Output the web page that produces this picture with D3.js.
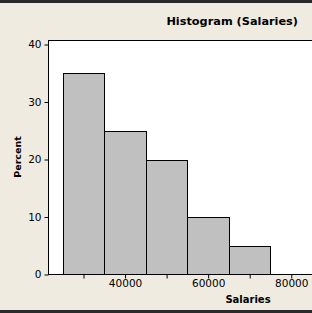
<!DOCTYPE html>
<html>
<head>
<meta charset="utf-8">
<script src="https://cdn.jsdelivr.net/npm/d3@7"></script>
<style>
  body { margin: 0; background: #efebe1; }
  svg { display: block; }
</style>
</head>
<body>
<div id="chart"></div>
<script>
// Histogram bins (lower edge, upper edge) and percent per bin
var binStarts = [25000, 35000, 45000, 55000, 65000];
var binEnds = [35000, 45000, 55000, 65000, 75000];
var percents = [35, 25, 20, 10, 5];
var xTicks = [30000, 40000, 50000, 60000, 70000, 80000];
var xLabels = [40000, 60000, 80000];
var yTicks = [0, 10, 20, 30, 40];

var W = 312, H = 313;

var svg = d3.select("#chart")
    .append("svg")
    .attr("width", W)
    .attr("height", H);

// window chrome bars
svg.append("rect").attr("x", 0).attr("y", 0).attr("width", W).attr("height", 3).attr("fill", "#2a2a2a");
svg.append("rect").attr("x", 0).attr("y", 310).attr("width", W).attr("height", 3).attr("fill", "#2a2a2a");

// scales
var pxPer1000 = 4.155;
var xScale = d3.scaleLinear()
    .domain([30000, 80000])
    .range([83.5, 83.5 + 50 * pxPer1000]);
var yScale = d3.scaleLinear().domain([0, 40]).range([274.5, 44.5]);

// plot frame
var frameLeft = 48.5, frameTop = 40.5;
svg.append("rect")
    .attr("x", frameLeft)
    .attr("y", frameTop)
    .attr("width", W + 10 - frameLeft)
    .attr("height", yScale(0) - frameTop)
    .attr("fill", "#ffffff")
    .attr("stroke", "#000")
    .attr("stroke-width", 1);

// bars
svg.selectAll("rect.bar")
    .data(percents)
    .enter()
    .append("rect")
    .attr("class", "bar")
    .attr("x", function (d, i) { return Math.round(xScale(binStarts[i])) + 0.5; })
    .attr("width", function (d, i) { return Math.round(xScale(binEnds[i])) - Math.round(xScale(binStarts[i])); })
    .attr("y", function (d) { return Math.round(yScale(d)) + 0.5; })
    .attr("height", function (d) { return yScale(0) - Math.round(yScale(d)) - 0.5; })
    .attr("fill", "#c0c0c0")
    .attr("stroke", "#000")
    .attr("stroke-width", 1);

// base line
svg.append("line")
    .attr("x1", frameLeft).attr("x2", W)
    .attr("y1", yScale(0)).attr("y2", yScale(0))
    .attr("stroke", "#000");

// x axis
var xAxis = svg.append("g")
    .attr("transform", "translate(0," + yScale(0) + ")")
    .call(d3.axisBottom(xScale)
        .tickValues(xTicks)
        .tickSize(4)
        .tickFormat(function (d) { return xLabels.indexOf(d) >= 0 ? d : ""; }));
xAxis.select(".domain").remove();
xAxis.selectAll("text")
    .style("font-family", "DejaVu Sans, Verdana, sans-serif")
    .style("font-size", "10.5px")
    .attr("fill", "#000")
    .attr("dy", "0.55em");

// y axis
var yAxis = svg.append("g")
    .attr("transform", "translate(" + frameLeft + ",0)")
    .call(d3.axisLeft(yScale)
        .tickValues(yTicks)
        .tickSize(4)
        .tickFormat(d3.format("d")));
yAxis.select(".domain").remove();
yAxis.selectAll("text")
    .style("font-family", "DejaVu Sans, Verdana, sans-serif")
    .style("font-size", "10.5px")
    .attr("fill", "#000");

// title
svg.append("text")
    .attr("x", 298)
    .attr("y", 25)
    .attr("text-anchor", "end")
    .style("font-family", "DejaVu Sans, Verdana, sans-serif")
    .style("font-size", "11.3px")
    .style("font-weight", "bold")
    .text("Histogram (Salaries)");

// x label
svg.append("text")
    .attr("x", 248)
    .attr("y", 303)
    .attr("text-anchor", "middle")
    .style("font-family", "DejaVu Sans, Verdana, sans-serif")
    .style("font-size", "10px")
    .style("font-weight", "bold")
    .text("Salaries");

// y label
svg.append("text")
    .attr("transform", "translate(21,157) rotate(-90)")
    .attr("text-anchor", "middle")
    .style("font-family", "DejaVu Sans, Verdana, sans-serif")
    .style("font-size", "9.5px")
    .style("font-weight", "bold")
    .text("Percent");
</script>
</body>
</html>
